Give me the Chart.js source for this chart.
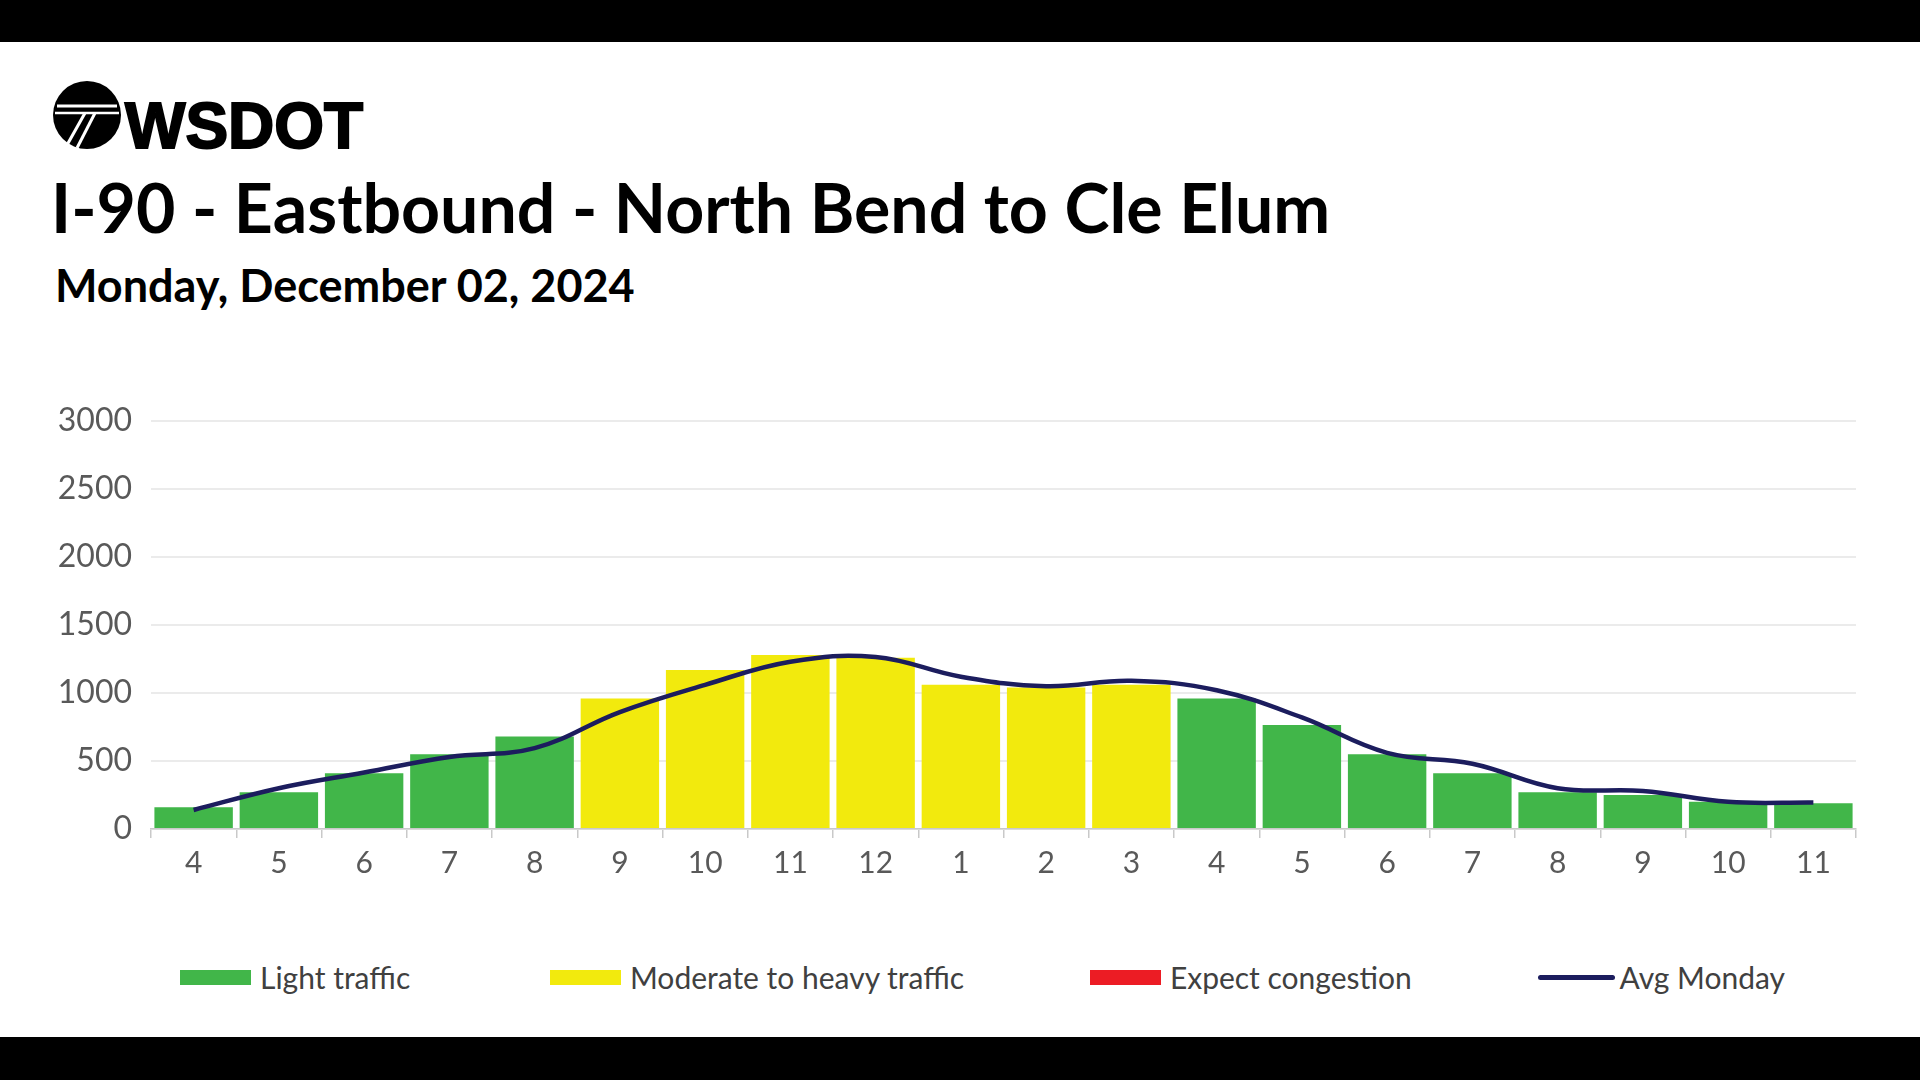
<!DOCTYPE html>
<html>
<head>
<meta charset="utf-8">
<script src="https://cdn.jsdelivr.net/npm/chart.js@4.4.1/dist/chart.umd.min.js"></script>
<style>
  html, body { margin: 0; padding: 0; background: #fff; }
  body { width: 1920px; height: 1080px; position: relative; overflow: hidden; font-family: Lato, "Open Sans", sans-serif; }
  .band { position: absolute; left: 0; width: 1920px; background: #000; }
  #logo { position: absolute; left: 53px; top: 81px; }
  .wsdot { position: absolute; left: 125px; top: 94px; font: bold 64px "Liberation Sans", Arial, sans-serif; line-height: 1; color: #000; -webkit-text-stroke: 2px #000; }
  .title { position: absolute; left: 51px; top: 173px; font-size: 68px; font-weight: 700; line-height: 1; color: #000; white-space: nowrap; }
  .subtitle { position: absolute; left: 55px; top: 263px; font-size: 45px; font-weight: 700; line-height: 1; color: #000; white-space: nowrap; }
  #chartBox { position: absolute; left: 0; top: 380px; width: 1920px; height: 520px; }
  #legend { position: absolute; left: 180px; top: 959px; width: 1605px; display: flex; justify-content: space-between; align-items: center; }
  #legend .item { display: flex; align-items: center; font-size: 30px; line-height: 36px; color: #404040; white-space: nowrap; }
  #legend .item:nth-child(2) { margin-left: 14px; }
  #legend .sw { display: inline-block; width: 71px; height: 15px; margin-right: 9px; }
  #legend .sw.line { width: 77px; height: 5px; border-radius: 3px; margin-right: 5px; }
</style>
</head>
<body>
<div class="band" style="top:0;height:42px"></div>
<div class="band" style="top:1037px;height:43px"></div>

<svg id="logo" width="68" height="68" viewBox="-34 -34 68 68">
  <circle cx="0" cy="0" r="34" fill="#000"/>
  <line x1="-30" y1="-9" x2="30" y2="-9" stroke="#fff" stroke-width="3"/>
  <line x1="-32" y1="-2" x2="32" y2="-2" stroke="#fff" stroke-width="2.5"/>
  <line x1="-2" y1="-2" x2="-20" y2="30" stroke="#fff" stroke-width="3"/>
  <line x1="8" y1="-2" x2="-10" y2="33" stroke="#fff" stroke-width="3"/>
</svg>
<div class="wsdot">WSDOT</div>
<div class="title">I-90 - Eastbound - North Bend to Cle Elum</div>
<div class="subtitle">Monday, December 02, 2024</div>

<div id="chartBox"><canvas id="chart" width="1920" height="520"></canvas></div>
<div id="legend"></div>

<script>
const hours = ['4', '5', '6', '7', '8', '9', '10', '11', '12', '1', '2', '3', '4', '5', '6', '7', '8', '9', '10', '11'];
const volume = [160, 270, 410, 550, 680, 960, 1170, 1280, 1260, 1060, 1040, 1060, 960, 765, 550, 410, 270, 250, 200, 190];
const level = ['light', 'light', 'light', 'light', 'light',
  'moderate', 'moderate', 'moderate', 'moderate', 'moderate', 'moderate', 'moderate',
  'light', 'light', 'light', 'light', 'light', 'light', 'light', 'light'];
const avgMonday = [140, 300, 415, 530, 595, 860, 1060, 1230, 1265, 1120, 1050, 1090, 1020, 820, 560, 480, 300, 280, 200, 195];
const yTicks = [0, 500, 1000, 1500, 2000, 2500, 3000];

const levelKeys = ['light', 'moderate', 'heavy'];
const levelLabels = ['Light traffic', 'Moderate to heavy traffic', 'Expect congestion'];
const levelColors = ['#41b649', '#f2ea0d', '#ec1c24'];

const barSets = levelKeys.map((k, i) => ({
    type: 'bar',
    label: levelLabels[i],
    data: volume.map((v, j) => level[j] === k ? v : null),
    backgroundColor: levelColors[i],
    barPercentage: 0.92,
    categoryPercentage: 1,
    order: 2
}));

const chart = new Chart(document.getElementById('chart'), {
    type: 'bar',
    data: {
        labels: hours,
        datasets: [...barSets, {
            type: 'line',
            label: 'Avg Monday',
            data: avgMonday,
            borderColor: '#1c1d5e',
            borderWidth: 4.5,
            pointRadius: 0,
            tension: 0.4,
            order: 1
        }]
    },
    options: {
        responsive: false,
        animation: false,
        layout: { padding: { top: 41, right: 64, bottom: 12, left: 0 } },
        plugins: { legend: { display: false }, tooltip: { enabled: false } },
        scales: {
            x: {
                stacked: true,
                grid: { offset: true, drawOnChartArea: false, tickLength: 9, color: '#c9c9c9', lineWidth: 1.5 },
                border: { color: '#c9c9c9', width: 1.5 },
                ticks: { padding: 7, font: { family: 'Lato', size: 30 }, color: '#595959' }
            },
            y: {
                min: 0,
                max: 3000,
                afterBuildTicks: s => { s.ticks = yTicks.map(v => ({ value: v })); },
                afterFit: s => { s.width = 151; },
                grid: { drawTicks: false, color: '#ebebeb', lineWidth: 2 },
                border: { display: false },
                ticks: { padding: 19, font: { family: 'Lato', size: 32 }, color: '#595959', callback: v => String(v) }
            }
        }
    }
});

// html legend from the chart's own datasets
const legendBox = document.getElementById('legend');
chart.data.datasets.forEach(ds => {
    const item = document.createElement('div');
    item.className = 'item';
    const sw = document.createElement('span');
    sw.className = ds.type === 'line' ? 'sw line' : 'sw';
    sw.style.background = ds.type === 'line' ? ds.borderColor : ds.backgroundColor;
    item.appendChild(sw);
    item.appendChild(document.createTextNode(ds.label));
    legendBox.appendChild(item);
});
</script>
</body>
</html>
